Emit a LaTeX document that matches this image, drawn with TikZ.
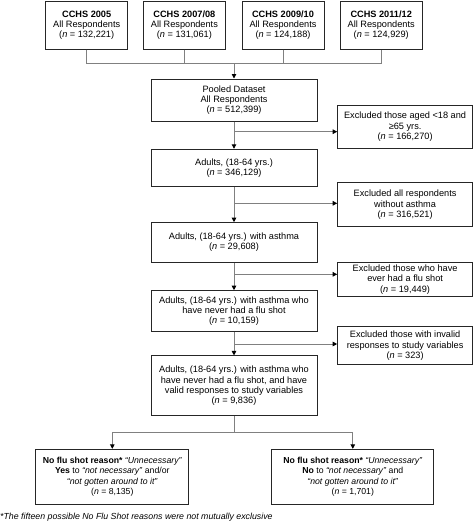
\documentclass[tikz,border=0pt]{standalone}
\usepackage{fontspec}
\setmainfont{Liberation Sans}
\usetikzlibrary{arrows.meta}
\tikzset{
  box/.style={draw=black!85, line width=1pt, align=center, inner sep=1pt,
    font=\fontsize{9.2}{10.2}\selectfont, fill=white},
  smallbox/.style={box, font=\fontsize{8.7}{10.3}\selectfont},
  conn/.style={draw=black!50, line width=0.9pt},
  arr/.style={conn, -{Triangle[length=4.5pt,width=4.5pt,fill=black,color=black]}},
}
\newcommand{\nn}{\textit{n}}
\begin{document}
\begin{tikzpicture}[x=1pt,y=-1pt]
\useasboundingbox (0,0) rectangle (474,525);
% top boxes
\node[box, minimum width=82, minimum height=48] (c1) at (86.7,25) {\textbf{CCHS 2005}\\All Respondents\\(\nn{} = 132,221)};
\node[box, minimum width=82, minimum height=48] (c2) at (184.4,25) {\textbf{CCHS 2007/08}\\All Respondents\\(\nn{} = 131,061)};
\node[box, minimum width=82, minimum height=48] (c3) at (283,25) {\textbf{CCHS 2009/10}\\All Respondents\\(\nn{} = 124,188)};
\node[box, minimum width=82, minimum height=48] (c4) at (381.2,25) {\textbf{CCHS 2011/12}\\All Respondents\\(\nn{} = 124,929)};
% main column
\node[box, minimum width=166, minimum height=42] (pool) at (234,100) {Pooled Dataset\\All Respondents\\(\nn{} = 512,399)};
\node[box, minimum width=166, minimum height=37.4] (adults) at (234,168) {Adults, (18-64 yrs.)\\(\nn{} = 346,129)};
\node[box, minimum width=166, minimum height=39.6] (asthma) at (234,242.5) {Adults, (18-64 yrs.) with asthma\\(\nn{} = 29,608)};
\node[box, minimum width=166, minimum height=41] (never) at (234,311.2) {Adults, (18-64 yrs.) with asthma who\\have never had a flu shot\\(\nn{} = 10,159)};
\node[box, minimum width=166, minimum height=59.7] (valid) at (234,385.8) {Adults, (18-64 yrs.) with asthma who\\have never had a flu shot, and have\\valid responses to study variables\\(\nn{} = 9,836)};
% exclusion boxes
\node[box, minimum width=134.8, minimum height=43] (ex1) at (405.1,126.8) {Excluded those aged <18 and\\≥65 yrs.\\(\nn{} = 166,270)};
\node[box, minimum width=134.8, minimum height=44] (ex2) at (405.1,204.7) {Excluded all respondents\\without asthma\\(\nn{} = 316,521)};
\node[box, minimum width=134.8, minimum height=34.4] (ex3) at (405.1,279.5) {Excluded those who have\\ever had a flu shot\\(\nn{} = 19,449)};
\node[box, minimum width=134.8, minimum height=38.3] (ex4) at (405.1,345.8) {Excluded those with invalid\\responses to study variables\\(\nn{} = 323)};
% bottom boxes
\node[smallbox, minimum width=153.3, minimum height=54.7] (bl) at (112.3,476.7) {\textbf{No flu shot reason*} \textit{“Unnecessary”}\\\textbf{Yes} to \textit{“not necessary”} and/or\\\textit{“not gotten around to it”}\\(\nn{} = 8,135)};
\node[smallbox, minimum width=162.3, minimum height=54.7] (br) at (352.8,476.7) {\textbf{No flu shot reason*} \textit{“Unnecessary”}\\\textbf{No} to \textit{“not necessary”} and\\\textit{“not gotten around to it”}\\(\nn{} = 1,701)};
% footnote
\node[anchor=west, inner sep=0, font=\fontsize{8.8}{10}\selectfont\itshape] (foot) at (0,517.7) {*The fifteen possible No Flu Shot reasons were not mutually exclusive};
% top merge
\coordinate (m) at (234,63.3);
\draw[conn] (c1.south) |- (c4.south |- m) -- (c4.south);
\draw[conn] (c2.south) -- (c2.south |- m);
\draw[conn] (c3.south) -- (c3.south |- m);
\draw[arr] (pool.north |- m) -- (pool.north);
% main flow
\draw[arr] (pool.south) -- (adults.north);
\draw[arr] (adults.south) -- (asthma.north);
\draw[arr] (asthma.south) -- (never.north);
\draw[arr] (never.south) -- (valid.north);
% exclusion arrows
\coordinate (j1) at (235,131.7);
\coordinate (j2) at (235,203.3);
\coordinate (j3) at (235,274.3);
\coordinate (j4) at (235,344);
\draw[arr] (j1) -- (j1 -| ex1.west);
\draw[arr] (j2) -- (j2 -| ex2.west);
\draw[arr] (j3) -- (j3 -| ex3.west);
\draw[arr] (j4) -- (j4 -| ex4.west);
% split
\coordinate (s) at (234,432.3);
\draw[conn] (valid.south) -- (s);
\draw[arr] (s) -| (bl.north);
\draw[arr] (s) -| (br.north);
\end{tikzpicture}
\end{document}
